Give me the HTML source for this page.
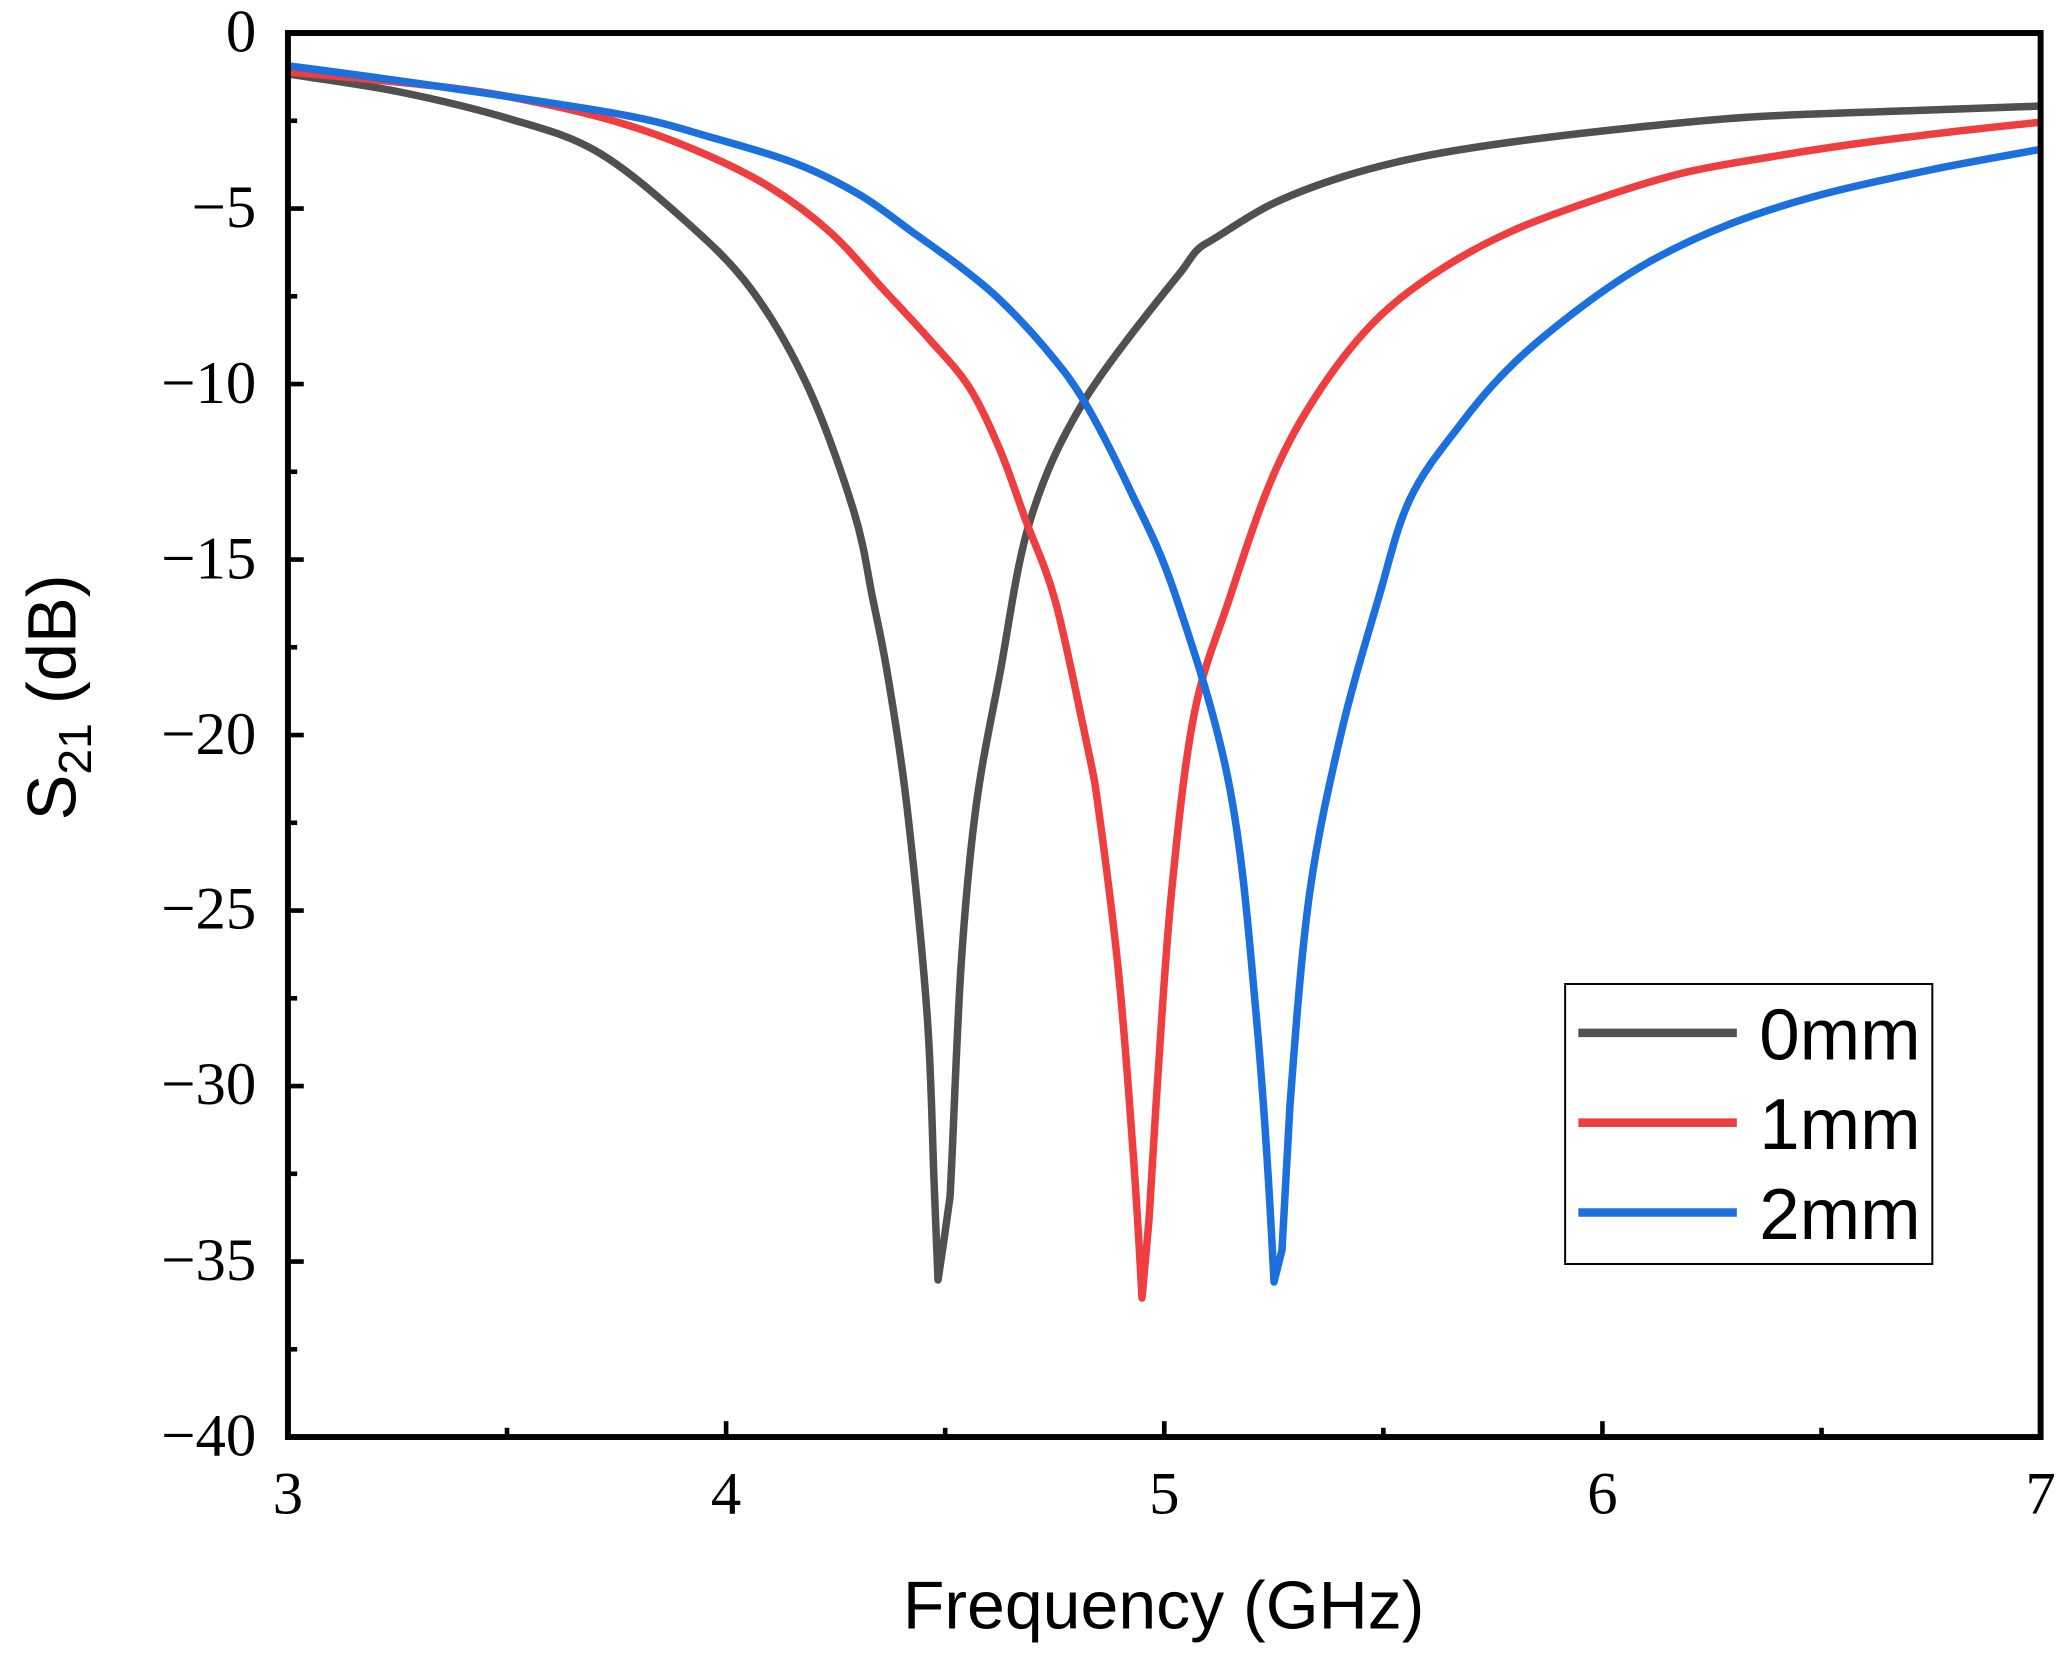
<!DOCTYPE html>
<html><head><style>html,body{margin:0;padding:0;background:#fff}svg{display:block}</style></head><body>
<svg width="2071" height="1665" viewBox="0 0 1568 1260.6" xmlns="http://www.w3.org/2000/svg">
<rect width="1568" height="1261" fill="#fff"/>
<g transform="scale(0.75712)" fill="none" stroke-width="7.5" stroke-linejoin="round">
<path stroke="#505050" d="M289,74 C326,80 363.2,84.5 400,92 C436.8,99.5 477.3,109.2 510,119 C542.7,128.8 567.3,134.5 596,151 C624.7,167.5 656.2,195 682,218 C707.8,241 730,260.8 751,289 C772,317.2 790.8,349.8 808,387 C825.2,424.2 843.2,476.5 854,512 C864.8,547.5 867.3,572.5 873,600 C878.7,627.5 882.3,642.5 888,677 C893.7,711.5 900.5,751 907,807 C913.5,863 922.5,951 927,1013 C931.5,1075 932.2,1135.5 934,1180 C935.8,1224.5 937,1260 938,1280 L944,1240 L950,1197 C952.8,1151.5 956.7,1032 961,967 C965.3,902 969.5,856 976,807 C982.5,758 991,720.7 1000,673 C1009,625.3 1016,566.3 1030,521 C1044,475.7 1059,442.3 1084,401 C1109,359.7 1168,288 1180,273 C1190,261 1193,251 1205,244 C1220,236 1247.2,216.2 1270,205 C1292.8,193.8 1317,185 1342,177 C1367,169 1391.7,162.8 1420,157 C1448.3,151.2 1477,146.8 1512,142 C1547,137.2 1590.2,132.2 1630,128 C1669.8,123.8 1706,119.8 1751,117 C1796,114.2 1851.5,112.8 1900,111 C1948.5,109.2 1995,107.7 2042,106"/>
<path stroke="#ef3e40" d="M289,72 C343,77 410.2,82.8 452,88 C493.8,93.2 511.3,97 540,103 C568.7,109 597.3,115.8 624,124 C650.7,132.2 676,141.7 700,152 C724,162.3 746.3,172.7 768,186 C789.7,199.3 810.8,214.8 830,232 C849.2,249.2 866.3,271 883,289 C899.7,307 915.7,323.7 930,340 C944.3,356.3 957.3,368.7 969,387 C980.7,405.3 990.5,427.7 1000,450 C1009.5,472.3 1016.8,496 1026,521 C1035.2,546 1045.3,565.2 1055,600 C1064.7,634.8 1077.3,699.3 1084,730 C1088,750 1091,762 1095,784 C1100.7,823.5 1111.7,905.8 1118,967 C1124.3,1028.2 1129,1096 1133,1151 C1137,1206 1140,1260 1142,1298 L1149,1220 L1156,1105 C1159.7,1051.3 1164.7,963 1171,898 C1177.3,833 1184.3,764.7 1194,715 C1203.7,665.3 1215.8,639.8 1229,600 C1242.2,560.2 1257.8,511 1273,476 C1288.2,441 1302.8,416 1320,390 C1337.2,364 1356,340 1376,320 C1396,300 1417.3,284.8 1440,270 C1462.7,255.2 1485.3,243 1512,231 C1538.7,219 1571.5,207.7 1600,198 C1628.5,188.3 1654.7,179.8 1683,173 C1711.3,166.2 1741.5,161.8 1770,157 C1798.5,152.2 1824,148.2 1854,144 C1884,139.8 1918.7,135.7 1950,132 C1981.3,128.3 2011.3,125.3 2042,122"/>
<path stroke="#1b70de" d="M289,66 C343,73 394.2,79.8 450,88 C505.8,96.2 580.7,106.8 624,115 C667.3,123.2 681.2,128.8 710,137 C738.8,145.2 772,154.3 797,164 C822,173.7 841,183.8 860,195 C879,206.2 894.7,219.3 911,231 C927.3,242.7 943.5,253.8 958,265 C972.5,276.2 983.5,284.2 998,298 C1012.5,311.8 1030.7,330.8 1045,348 C1059.3,365.2 1069.8,377.3 1084,401 C1098.2,424.7 1114.8,457.8 1130,490 C1145.2,522.2 1158.5,545 1175,594 C1191.5,643 1215.5,714.2 1229,784 C1242.5,853.8 1248.5,930 1256,1013 C1263.5,1096 1270,1200 1274,1282 L1282,1250 L1290,1105 C1294.5,1046.3 1300.7,959.2 1309,898 C1317.3,836.8 1328.5,787.7 1340,738 C1351.5,688.3 1366.3,639.8 1378,600 C1389.7,560.2 1396.3,528.2 1410,499 C1423.7,469.8 1443,447.3 1460,425 C1477,402.7 1492,384.5 1512,365 C1532,345.5 1557.2,325.2 1580,308 C1602.8,290.8 1624,276 1649,262 C1674,248 1701.5,235.2 1730,224 C1758.5,212.8 1786.7,204 1820,195 C1853.3,186 1893,177.7 1930,170 C1967,162.3 2005,156 2042,149"/>
</g>
<rect x="218" y="25" width="1327" height="1063" fill="none" stroke="#000" stroke-width="4.5"/>
<g stroke="#000" stroke-width="3.5">
<line x1="218" y1="91.44" x2="225" y2="91.44"/><line x1="218" y1="157.88" x2="230" y2="157.88"/>
<line x1="218" y1="224.31" x2="225" y2="224.31"/><line x1="218" y1="290.75" x2="230" y2="290.75"/>
<line x1="218" y1="357.19" x2="225" y2="357.19"/><line x1="218" y1="423.63" x2="230" y2="423.63"/>
<line x1="218" y1="490.06" x2="225" y2="490.06"/><line x1="218" y1="556.5" x2="230" y2="556.5"/>
<line x1="218" y1="622.94" x2="225" y2="622.94"/><line x1="218" y1="689.38" x2="230" y2="689.38"/>
<line x1="218" y1="755.81" x2="225" y2="755.81"/><line x1="218" y1="822.25" x2="230" y2="822.25"/>
<line x1="218" y1="888.69" x2="225" y2="888.69"/><line x1="218" y1="955.13" x2="230" y2="955.13"/>
<line x1="218" y1="1021.56" x2="225" y2="1021.56"/>
<line x1="383.875" y1="1088" x2="383.875" y2="1081"/><line x1="549.75" y1="1088" x2="549.75" y2="1076"/>
<line x1="715.625" y1="1088" x2="715.625" y2="1081"/><line x1="881.5" y1="1088" x2="881.5" y2="1076"/>
<line x1="1047.375" y1="1088" x2="1047.375" y2="1081"/><line x1="1213.25" y1="1088" x2="1213.25" y2="1076"/>
<line x1="1379.125" y1="1088" x2="1379.125" y2="1081"/>
</g>
<g font-family="'Liberation Serif',serif" font-size="46" fill="#000" text-anchor="end">
<text x="194" y="39">0</text>
<text x="194" y="172">−5</text>
<text x="194" y="305">−10</text>
<text x="194" y="438">−15</text>
<text x="194" y="571">−20</text>
<text x="194" y="703">−25</text>
<text x="194" y="836">−30</text>
<text x="194" y="969">−35</text>
<text x="194" y="1102">−40</text>
</g>
<g font-family="'Liberation Serif',serif" font-size="46" fill="#000" text-anchor="middle">
<text x="218" y="1146">3</text>
<text x="549.75" y="1146">4</text>
<text x="881.5" y="1146">5</text>
<text x="1213.25" y="1146">6</text>
<text x="1545" y="1146">7</text>
</g>
<rect x="1185" y="745" width="278" height="212" fill="#fff" stroke="#000" stroke-width="1.5"/>
<g stroke-width="6.5">
<line x1="1195" y1="782" x2="1315" y2="782" stroke="#505050"/>
<line x1="1195" y1="850" x2="1315" y2="850" stroke="#ef3e40"/>
<line x1="1195" y1="918" x2="1315" y2="918" stroke="#1b70de"/>
</g>
<g font-family="'Liberation Sans',sans-serif" font-size="55" fill="#000">
<text x="1332" y="802">0mm</text>
<text x="1332" y="870">1mm</text>
<text x="1332" y="938">2mm</text>
<text x="881" y="1233" text-anchor="middle" font-size="51.5">Frequency (GHz)</text>
<text transform="translate(57,528) rotate(-90)" text-anchor="middle" font-size="52">S<tspan font-size="35" dy="12">21</tspan><tspan dy="-12"> (dB)</tspan></text>
</g>
</svg>
</body></html>
